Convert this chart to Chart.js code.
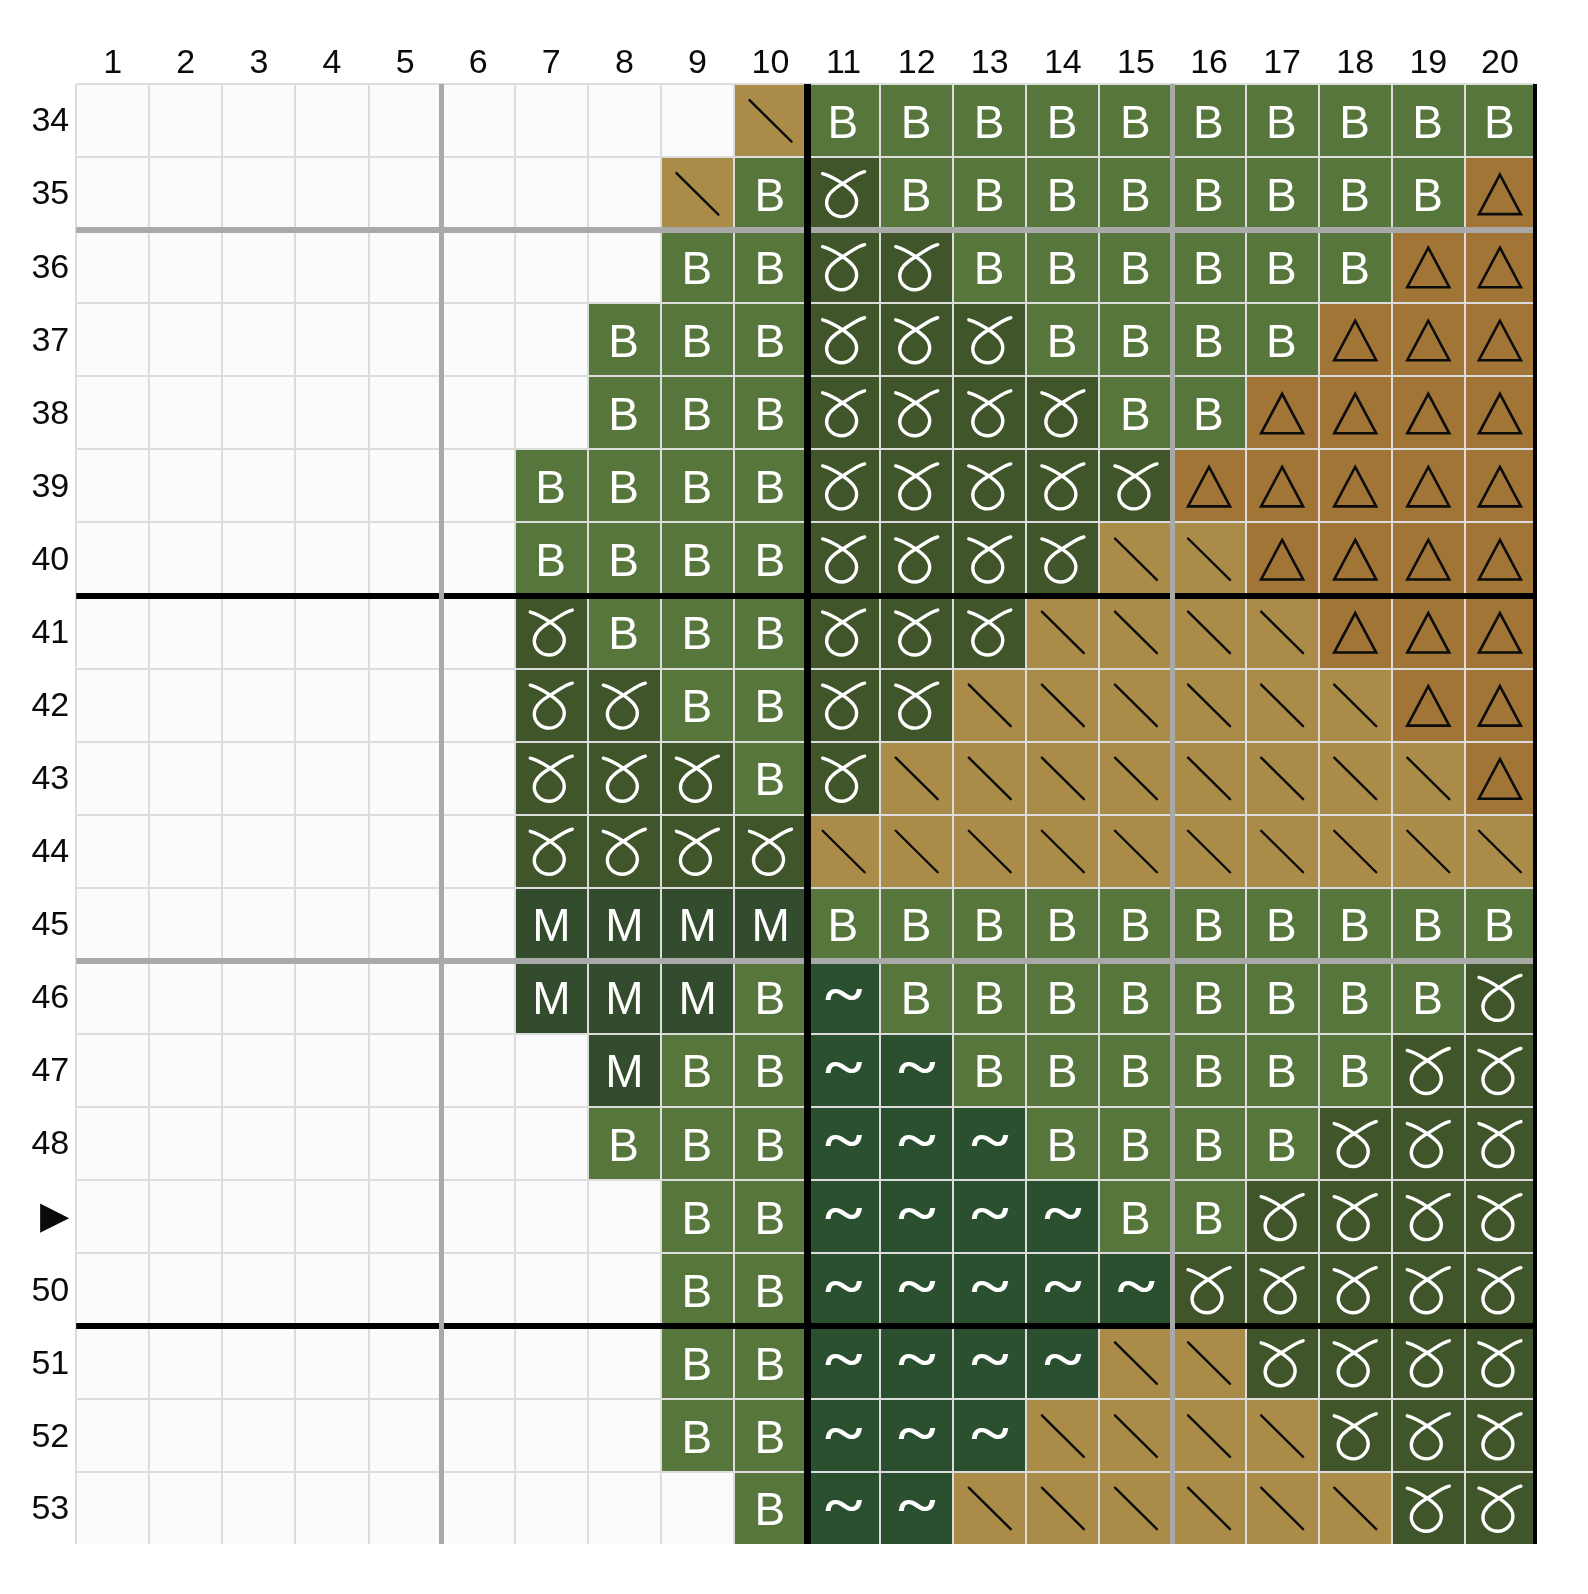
<!DOCTYPE html>
<html>
<head>
<meta charset="utf-8">
<style>html,body{margin:0;padding:0;background:#fff}canvas{display:block}</style>
<script src="https://cdn.jsdelivr.net/npm/chart.js@4"></script>
</head>
<body>
<canvas id="c" width="1588" height="1594"></canvas>
<script>
const columns = [1,2,3,4,5,6,7,8,9,10,11,12,13,14,15,16,17,18,19,20];
const rows = [34,35,36,37,38,39,40,41,42,43,44,45,46,47,48,49,50,51,52,53];
const rowTickLabels = ['34','35','36','37','38','39','40','41','42','43','44','45','46','47','48','\u25B6','50','51','52','53'];
// one string per row, one character per column (. = empty)
const stitchRows = [
  '.........DBBBBBBBBBB',
  '........DBLBBBBBBBBT',
  '........BBLLBBBBBBTT',
  '.......BBBLLLBBBBTTT',
  '.......BBBLLLLBBTTTT',
  '......BBBBLLLLLTTTTT',
  '......BBBBLLLLDDTTTT',
  '......LBBBLLLDDDDTTT',
  '......LLBBLLDDDDDDTT',
  '......LLLBLDDDDDDDDT',
  '......LLLLDDDDDDDDDD',
  '......MMMMBBBBBBBBBB',
  '......MMMBSBBBBBBBBL',
  '.......MBBSSBBBBBBLL',
  '.......BBBSSSBBBBLLL',
  '........BBSSSSBBLLLL',
  '........BBSSSSSLLLLL',
  '........BBSSSSDDLLLL',
  '........BBSSSDDDDLLL',
  '.........BSSDDDDDDLL'
];
const stitchKeys = ['B','L','M','S','D','T'];
const stitchColors = {B:'#56763b',L:'#40552a',M:'#324c2d',S:'#2a5030',D:'#aa8b47',T:'#a07535'};
const stitchText = {B:'B',M:'M',S:'~'};
const xEnd = 20.46;
const yEnd = 53.48;
const xGrayRules = [5.5,15.5];
const xBlackRules = [10.5,xEnd];
const yGrayRules = [35.5,45.5];
const yBlackRules = [40.5,50.5];

const GRAY='#a9a9a9', BLACK='#000000', THIN='#dcdcdc';
const xBounds = [0.5].concat(columns.slice(0,-1).map(c=>c+0.5), [xEnd]);
const yBounds = [33.5].concat(rows.slice(0,-1).map(r=>r+0.5));
const colCentre = c => (c-0.5 + Math.min(c+0.5,xEnd))/2;
const rowCentre = r => (r-0.5 + Math.min(r+0.5,yEnd))/2;

const datasets = stitchKeys.map(k=>{
  const data=[];
  stitchRows.forEach((s,ri)=>{ [...s].forEach((ch,ci)=>{ if(ch===k) data.push({x:columns[ci],y:rows[ri]}); }); });
  return {label:k,data,showLine:false,clip:0,backgroundColor:stitchColors[k],borderWidth:0,
    pointStyle:'rect',pointBorderWidth:0,pointBackgroundColor:stitchColors[k],
    pointRadius:ctx=>{const s=ctx.chart.scales.x;return (Math.abs(s.getPixelForValue(2)-s.getPixelForValue(1))+1)*Math.SQRT1_2;},
    pointHoverRadius:0};
});

const hidden = (axis,pos,extra)=>Object.assign({axis,type:'linear',position:pos,display:true,
  min:axis==='x'?0.5:33.5,max:axis==='x'?xEnd:yEnd,reverse:axis==='y',
  border:{display:false},ticks:{display:false},
  afterFit:a=>{ if(axis==='x') a.height=0; else a.width=0; }},extra);

const ruleColor = (black)=>ctx=>black.includes(ctx.tick.value)?BLACK:GRAY;

const glyphPlugin = {
  id:'glyphs',
  beforeDraw(chart){
    const {ctx,chartArea:a}=chart;
    ctx.save();ctx.fillStyle='#fbfbfe';ctx.fillRect(a.left,a.top,a.right-a.left,a.bottom-a.top);ctx.restore();
  },
  afterDatasetsDraw(chart){
    const {ctx,scales:{x,y}}=chart;
    const u=Math.abs(x.getPixelForValue(2)-x.getPixelForValue(1))/73.1;
    stitchRows.forEach((s,ri)=>{
      [...s].forEach((ch,ci)=>{
        if(ch==='.')return;
        const px=x.getPixelForValue(colCentre(columns[ci])), py=y.getPixelForValue(rowCentre(rows[ri]));
        ctx.save();ctx.translate(px,py);ctx.scale(u,u);
        ctx.lineCap='round';ctx.lineJoin='miter';
        if(stitchText[ch]){
          ctx.fillStyle='#ffffff';
          ctx.textAlign='left';ctx.textBaseline='alphabetic';
          let dy=1;
          if(ch==='S'){ ctx.font='bold 72px "Liberation Serif"'; ctx.translate(0,-3); ctx.scale(1,0.78); dy=0; }
          else ctx.font='46px "Liberation Sans"';
          const t=stitchText[ch],m=ctx.measureText(t);
          const ix=(m.actualBoundingBoxRight-m.actualBoundingBoxLeft)/2;
          const iy=(m.actualBoundingBoxDescent-m.actualBoundingBoxAscent)/2;
          ctx.fillText(t,-ix,-iy+dy);
        } else if(ch==='D'){
          ctx.strokeStyle='#0c0c0c';ctx.lineWidth=2.4;
          ctx.beginPath();ctx.moveTo(-21,-20.5);ctx.lineTo(21,21);ctx.stroke();
        } else if(ch==='T'){
          ctx.strokeStyle='#0c0c0c';ctx.lineWidth=2.6;
          ctx.beginPath();ctx.moveTo(0,-19);ctx.lineTo(21,20.5);ctx.lineTo(-21,20.5);ctx.closePath();ctx.stroke();
        } else if(ch==='L'){
          ctx.strokeStyle='#ffffff';ctx.lineWidth=3.4;
          ctx.beginPath();ctx.moveTo(-21,-20);
          ctx.bezierCurveTo(-14,-18,-7,-14,-1,-10);
          ctx.bezierCurveTo(6,-5,13,0,13,8);
          ctx.bezierCurveTo(13,16,6,23,-2,23);
          ctx.bezierCurveTo(-10,23,-17,17,-17,9);
          ctx.bezierCurveTo(-17,1,-10,-5,-1,-10);
          ctx.bezierCurveTo(6,-14,13,-20,21,-22);
          ctx.stroke();
        }
        ctx.restore();
      });
    });
  }
};

new Chart(document.getElementById('c'),{
  type:'scatter',
  data:{datasets},
  plugins:[glyphPlugin],
  options:{
    responsive:false,animation:false,devicePixelRatio:1,
    layout:{padding:{top:0,left:0,right:53,bottom:50}},
    plugins:{legend:{display:false},tooltip:{enabled:false}},
    events:[],
    scales:{
      x:{type:'linear',position:'top',min:0.5,max:xEnd,
        grid:{display:false},border:{display:false},
        afterBuildTicks:a=>{a.ticks=columns.map(c=>({value:colCentre(c)}));},
        afterFit:a=>{a.height=84;},
        ticks:{autoSkip:false,maxRotation:0,padding:-8,color:'#0a0a0a',
          font:{family:'"Liberation Sans"',size:34},
          callback:(v,i)=>String(columns[i])}},
      y:{type:'linear',position:'left',min:33.5,max:yEnd,reverse:true,
        grid:{display:false},border:{display:false},
        afterBuildTicks:a=>{a.ticks=rows.map(r=>({value:rowCentre(r)}));},
        afterFit:a=>{a.width=76.2;},
        ticks:{autoSkip:false,padding:-1,labelOffset:1.5,color:'#0a0a0a',
          font:ctx=>rowTickLabels[ctx.index]==='\u25B6'
            ?{family:'"DejaVu Sans"',size:38}:{family:'"Liberation Sans"',size:34},
          callback:(v,i)=>rowTickLabels[i]}},
      xThin:hidden('x','bottom',{
        afterBuildTicks:a=>{a.ticks=xBounds.map(v=>({value:v}));},
        grid:{z:1,color:THIN,lineWidth:2,drawTicks:false}}),
      yThin:hidden('y','right',{
        afterBuildTicks:a=>{a.ticks=yBounds.map(v=>({value:v}));},
        grid:{z:1,color:THIN,lineWidth:2,drawTicks:false}}),
      yThick:hidden('y','right',{
        afterBuildTicks:a=>{a.ticks=yGrayRules.concat(yBlackRules).map(v=>({value:v}));},
        grid:{z:2,color:ruleColor(yBlackRules),lineWidth:6,drawTicks:false}}),
      xThick:hidden('x','bottom',{
        afterBuildTicks:a=>{a.ticks=xGrayRules.concat(xBlackRules).map(v=>({value:v}));},
        grid:{z:3,color:ruleColor(xBlackRules),
          lineWidth:ctx=>ctx.tick.value===xEnd?4:(xBlackRules.includes(ctx.tick.value)?7:5),
          drawTicks:false}})
    }
  }
});
</script>
</body>
</html>
